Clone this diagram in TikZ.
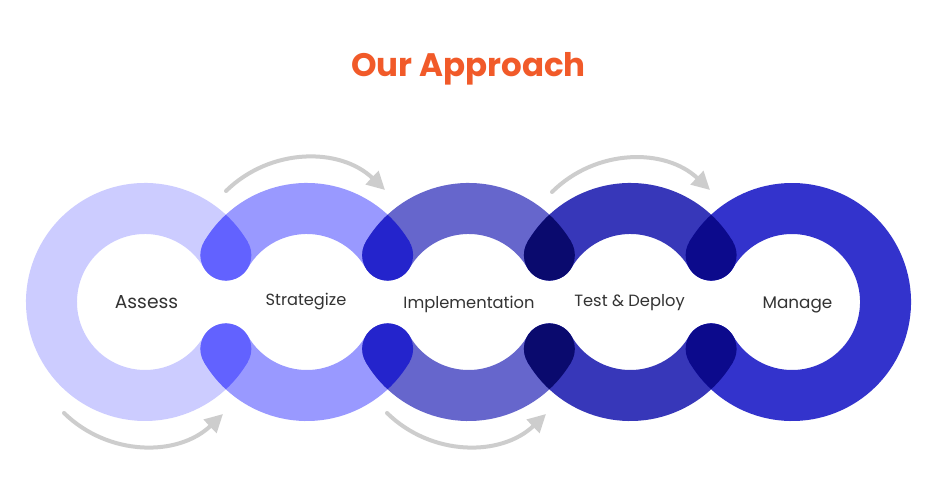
\documentclass[tikz,border=0pt]{standalone}
\usepackage{fontspec}
\setmainfont{Poppins}
\usetikzlibrary{arrows.meta}
\definecolor{ringA}{HTML}{CCCCFF}
\definecolor{ringB}{HTML}{9999FF}
\definecolor{ringC}{HTML}{6666CC}
\definecolor{ringD}{HTML}{3737B9}
\definecolor{ringE}{HTML}{3333CC}
\definecolor{dropAB}{HTML}{6262FF}
\definecolor{dropBC}{HTML}{2424CC}
\definecolor{dropCD}{HTML}{0A0A6E}
\definecolor{dropDE}{HTML}{0C0A8C}
\definecolor{arrowgrey}{HTML}{CDCDCD}
\definecolor{labelgrey}{HTML}{333333}
\definecolor{titleorange}{HTML}{F15A29}
\newcommand\dropshape[5]{%
  \begin{scope}
    \clip (#1) circle[radius=119];
    \clip (#2) circle[radius=119];
    \fill[#4, shift={(#3)}, yscale=#5] (0,0) -- (30.1:100) -- (0,150) -- (149.9:100) -- cycle;
  \end{scope}
  \fill[#4] (#3) circle[radius=25.5];
}
\begin{document}
\begin{tikzpicture}[x=1pt,y=1pt,
  ring/.style={line width=51pt, line cap=round},
  garrow/.style={draw=arrowgrey, line width=4pt, line cap=round, -{Triangle[length=18pt,width=18pt]}},
  steplabel/.style={text=labelgrey, anchor=base, inner sep=0pt}]
\useasboundingbox (0,0) rectangle (941,489);
\fill[white] (0,0) rectangle (941,489);
% ring centres
\coordinate (c1) at (145,187);
\coordinate (c2) at (306.75,187);
\coordinate (c3) at (468.5,187);
\coordinate (c4) at (630.25,187);
\coordinate (c5) at (792,187);
% junction cap centres
\coordinate (m12t) at (225.875,233.9);
\coordinate (m12b) at (225.875,140.1);
\coordinate (m23t) at (387.625,233.9);
\coordinate (m23b) at (387.625,140.1);
\coordinate (m34t) at (549.375,233.9);
\coordinate (m34b) at (549.375,140.1);
\coordinate (m45t) at (711.125,233.9);
\coordinate (m45b) at (711.125,140.1);
% rings
\draw[ring, draw=ringA] (m12t) arc[start angle=30.1, end angle=329.9, radius=93.5];
\draw[ring, draw=ringB] (m12t) arc[start angle=149.9, end angle=30.1, radius=93.5];
\draw[ring, draw=ringB] (m12b) arc[start angle=210.1, end angle=329.9, radius=93.5];
\draw[ring, draw=ringC] (m23t) arc[start angle=149.9, end angle=30.1, radius=93.5];
\draw[ring, draw=ringC] (m23b) arc[start angle=210.1, end angle=329.9, radius=93.5];
\draw[ring, draw=ringD] (m34t) arc[start angle=149.9, end angle=30.1, radius=93.5];
\draw[ring, draw=ringD] (m34b) arc[start angle=210.1, end angle=329.9, radius=93.5];
\draw[ring, draw=ringE] (m45b) arc[start angle=210.1, end angle=509.9, radius=93.5];
% overlaps
\dropshape{c1}{c2}{m12t}{dropAB}{1}
\dropshape{c1}{c2}{m12b}{dropAB}{-1}
\dropshape{c2}{c3}{m23t}{dropBC}{1}
\dropshape{c2}{c3}{m23b}{dropBC}{-1}
\dropshape{c3}{c4}{m34t}{dropCD}{1}
\dropshape{c3}{c4}{m34b}{dropCD}{-1}
\dropshape{c4}{c5}{m45t}{dropDE}{1}
\dropshape{c4}{c5}{m45b}{dropDE}{-1}
% labels
\node[steplabel, font=\fontsize{18.7}{22}\selectfont] (assess) at (146.5,180) {Assess};
\node[steplabel, font=\fontsize{16.2}{20}\selectfont] (strategize) at (306,183) {Strategize};
\node[steplabel, font=\fontsize{16.3}{20}\selectfont] (implementation) at (469,180) {Implementation};
\node[steplabel, font=\fontsize{16.3}{20}\selectfont] (testdeploy) at (629.5,182) {Test \& Deploy};
\node[steplabel, font=\fontsize{16.8}{20}\selectfont] (manage) at (797.5,180) {Manage};
% title
\node[font=\fontsize{32.5}{40}\selectfont\bfseries, text=titleorange, anchor=base, inner sep=0pt] (title) at (468.5,412) {Our Approach};
% arrows
\coordinate (t1s) at (226,298);
\coordinate (t1e) at (385,299);
\coordinate (t2s) at (552,297);
\coordinate (t2e) at (710,299);
\coordinate (b1s) at (64,76);
\coordinate (b1e) at (223,75);
\coordinate (b2s) at (387,76);
\coordinate (b2e) at (546,75);
\draw[garrow] (t1s) to[bend left=44] (t1e);
\draw[garrow] (t2s) to[bend left=44] (t2e);
\draw[garrow] (b1s) to[bend right=44] (b1e);
\draw[garrow] (b2s) to[bend right=44] (b2e);
\end{tikzpicture}
\end{document}
